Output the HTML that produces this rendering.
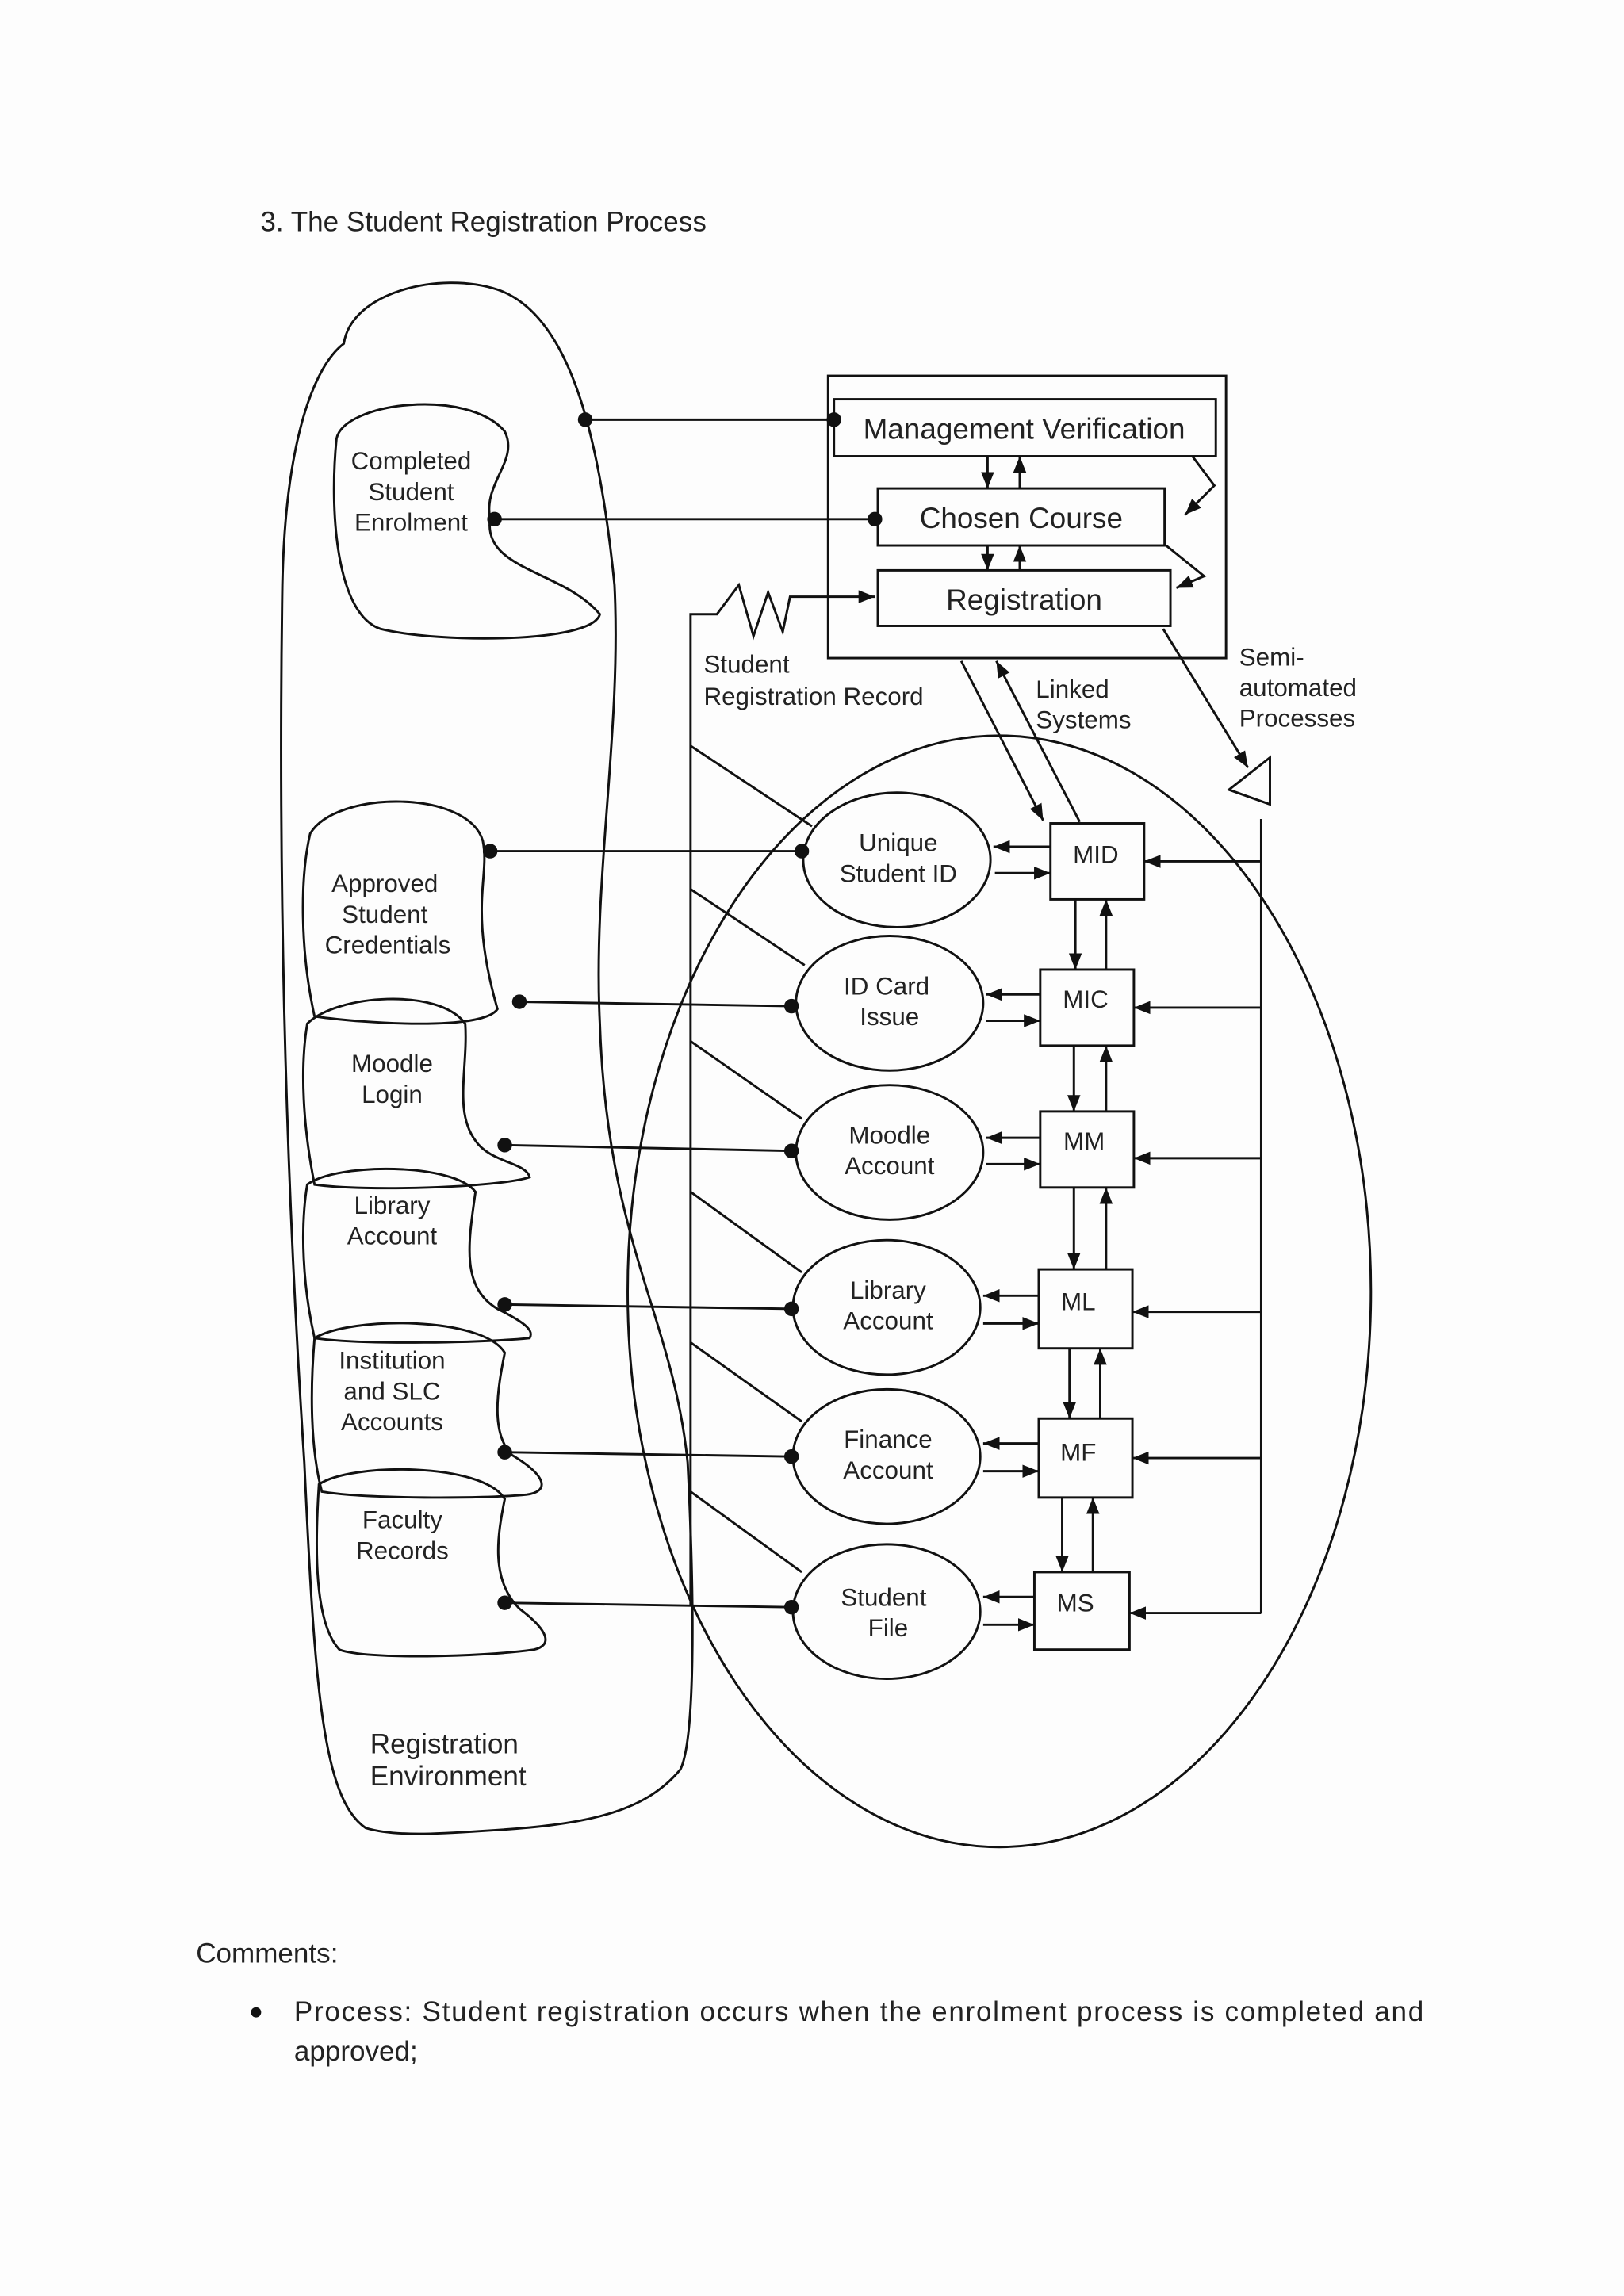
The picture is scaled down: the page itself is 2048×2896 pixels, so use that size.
<!DOCTYPE html>
<html><head><meta charset="utf-8"><style>
html,body{margin:0;padding:0;background:#fdfdfd;}
svg{display:block;}
text{font-family:"Liberation Sans",Arial,sans-serif;fill:#222;}
.t{font-size:17px;text-anchor:middle;}
</style></head><body>
<svg width="2048" height="2896" viewBox="0 0 1110 1570" preserveAspectRatio="none" xmlns="http://www.w3.org/2000/svg">
<defs>
<marker id="a" viewBox="0 0 10 10" refX="10" refY="5" markerWidth="7" markerHeight="7" orient="auto"><path d="M0,1 L10,5 L0,9 Z" fill="#111"/></marker>
</defs>
<rect width="1110" height="1570" fill="#fdfdfd"/>
<text x="178" y="158" style="font-size:19px" fill="#333">3. The Student Registration Process</text>
<g fill="none" stroke="#111" stroke-width="1.6">
<path d="M250,1250 C220,1230 215,1150 208,1000 C195,800 190,600 193,400 C195,300 215,250 235,235 C240,200 300,185 340,198 C390,215 410,300 420,400 C425,500 405,600 410,700 C415,850 460,900 470,1000 C475,1100 475,1190 465,1210 C440,1240 400,1248 330,1252 C300,1254 270,1256 250,1250 Z"/>
<path d="M230,300 C235,275 320,265 345,295 C355,315 330,330 335,355 C330,390 385,390 410,420 C405,440 300,440 260,430 C230,420 225,350 230,300 Z"/>
<path d="M212,570 C230,540 320,540 330,575 C335,600 320,620 340,690 C330,705 250,700 215,695 C205,650 205,600 212,570 Z"/>
<path d="M210,700 C230,680 300,675 318,700 C320,730 310,760 325,780 C335,795 360,795 362,805 C340,812 250,815 215,810 C207,770 205,730 210,700 Z"/>
<path d="M210,810 C230,795 310,795 325,815 C320,850 315,880 340,895 C360,905 365,910 362,915 C330,918 250,920 215,915 C207,880 205,840 210,810 Z"/>
<path d="M215,915 C240,900 330,900 345,925 C340,950 335,980 350,995 C375,1010 375,1020 360,1022 C330,1025 250,1025 220,1020 C212,990 212,950 215,915 Z"/>
<path d="M218,1015 C240,1000 330,1000 345,1025 C340,1050 335,1080 355,1100 C375,1115 378,1125 365,1128 C330,1133 250,1135 232,1128 C215,1110 215,1060 218,1015 Z"/>
<rect x="566" y="257" width="272" height="193"/>
<rect x="570" y="273" width="261" height="39" fill="#fdfdfd"/>
<rect x="600" y="334" width="196" height="39" fill="#fdfdfd"/>
<rect x="600" y="390" width="200" height="38" fill="#fdfdfd"/>
<line x1="675" y1="312" x2="675" y2="334" marker-end="url(#a)"/>
<line x1="697" y1="334" x2="697" y2="312" marker-end="url(#a)"/>
<line x1="675" y1="373" x2="675" y2="390" marker-end="url(#a)"/>
<line x1="697" y1="390" x2="697" y2="373" marker-end="url(#a)"/>
<polyline points="815,312 830,332 810,352" marker-end="url(#a)"/>
<polyline points="797,373 823,394 804,402" marker-end="url(#a)"/>
<line x1="400" y1="287" x2="570" y2="287"/>
<line x1="338" y1="355" x2="598" y2="355"/>
<polyline points="472,1098 472,420 490,420 505,400 515,435 525,405 535,432 540,408 598,408" marker-end="url(#a)"/>
<line x1="657" y1="452" x2="713" y2="561" marker-end="url(#a)"/>
<line x1="738" y1="562" x2="681" y2="452" marker-end="url(#a)"/>
<line x1="795" y1="430" x2="853" y2="525" marker-end="url(#a)"/>
<polygon points="840,540 868,518 868,550"/>
<line x1="862" y1="560" x2="862" y2="1103"/>
<ellipse cx="683" cy="883" rx="254" ry="380"/>
<line x1="472" y1="510" x2="555" y2="565"/>
<line x1="472" y1="608" x2="550" y2="660"/>
<line x1="472" y1="712" x2="548" y2="765"/>
<line x1="472" y1="815" x2="548" y2="870"/>
<line x1="472" y1="918" x2="548" y2="972"/>
<line x1="472" y1="1020" x2="548" y2="1075"/>
<ellipse cx="613" cy="588" rx="64" ry="46" fill="#fdfdfd"/>
<ellipse cx="608" cy="686" rx="64" ry="46" fill="#fdfdfd"/>
<ellipse cx="608" cy="788" rx="64" ry="46" fill="#fdfdfd"/>
<ellipse cx="606" cy="894" rx="64" ry="46" fill="#fdfdfd"/>
<ellipse cx="606" cy="996" rx="64" ry="46" fill="#fdfdfd"/>
<ellipse cx="606" cy="1102" rx="64" ry="46" fill="#fdfdfd"/>
<rect x="718" y="563" width="64" height="52"/>
<rect x="711" y="663" width="64" height="52"/>
<rect x="711" y="760" width="64" height="52"/>
<rect x="710" y="868" width="64" height="54"/>
<rect x="710" y="970" width="64" height="54"/>
<rect x="707" y="1075" width="65" height="53"/>
<line x1="718" y1="579" x2="679" y2="579" marker-end="url(#a)"/><line x1="680" y1="597" x2="718" y2="597" marker-end="url(#a)"/>
<line x1="711" y1="680" x2="674" y2="680" marker-end="url(#a)"/><line x1="674" y1="698" x2="711" y2="698" marker-end="url(#a)"/>
<line x1="711" y1="778" x2="674" y2="778" marker-end="url(#a)"/><line x1="674" y1="796" x2="711" y2="796" marker-end="url(#a)"/>
<line x1="710" y1="886" x2="672" y2="886" marker-end="url(#a)"/><line x1="672" y1="905" x2="710" y2="905" marker-end="url(#a)"/>
<line x1="710" y1="987" x2="672" y2="987" marker-end="url(#a)"/><line x1="672" y1="1006" x2="710" y2="1006" marker-end="url(#a)"/>
<line x1="707" y1="1092" x2="672" y2="1092" marker-end="url(#a)"/><line x1="672" y1="1111" x2="707" y2="1111" marker-end="url(#a)"/>
<line x1="735" y1="615" x2="735" y2="663" marker-end="url(#a)"/><line x1="756" y1="663" x2="756" y2="615" marker-end="url(#a)"/>
<line x1="734" y1="715" x2="734" y2="760" marker-end="url(#a)"/><line x1="756" y1="760" x2="756" y2="715" marker-end="url(#a)"/>
<line x1="734" y1="812" x2="734" y2="868" marker-end="url(#a)"/><line x1="756" y1="868" x2="756" y2="812" marker-end="url(#a)"/>
<line x1="731" y1="922" x2="731" y2="970" marker-end="url(#a)"/><line x1="752" y1="970" x2="752" y2="922" marker-end="url(#a)"/>
<line x1="726" y1="1024" x2="726" y2="1075" marker-end="url(#a)"/><line x1="747" y1="1075" x2="747" y2="1024" marker-end="url(#a)"/>
<line x1="862" y1="589" x2="782" y2="589" marker-end="url(#a)"/>
<line x1="862" y1="689" x2="775" y2="689" marker-end="url(#a)"/>
<line x1="862" y1="792" x2="775" y2="792" marker-end="url(#a)"/>
<line x1="862" y1="897" x2="774" y2="897" marker-end="url(#a)"/>
<line x1="862" y1="997" x2="774" y2="997" marker-end="url(#a)"/>
<line x1="862" y1="1103" x2="772" y2="1103" marker-end="url(#a)"/>
<line x1="335" y1="582" x2="548" y2="582"/>
<line x1="355" y1="685" x2="541" y2="688"/>
<line x1="345" y1="783" x2="541" y2="787"/>
<line x1="345" y1="892" x2="541" y2="895"/>
<line x1="345" y1="993" x2="541" y2="996"/>
<line x1="345" y1="1096" x2="541" y2="1099"/>
</g>
<g fill="#111">
<circle cx="400" cy="287" r="5"/><circle cx="570" cy="287" r="5"/>
<circle cx="338" cy="355" r="5"/><circle cx="598" cy="355" r="5"/>
<circle cx="335" cy="582" r="5"/><circle cx="548" cy="582" r="5"/>
<circle cx="355" cy="685" r="5"/><circle cx="541" cy="688" r="5"/>
<circle cx="345" cy="783" r="5"/><circle cx="541" cy="787" r="5"/>
<circle cx="345" cy="892" r="5"/><circle cx="541" cy="895" r="5"/>
<circle cx="345" cy="993" r="5"/><circle cx="541" cy="996" r="5"/>
<circle cx="345" cy="1096" r="5"/><circle cx="541" cy="1099" r="5"/>
</g>
<g class="t">
<text class="t" x="700" y="300" style="font-size:20px">Management Verification</text>
<text class="t" x="698" y="361" style="font-size:20px">Chosen Course</text>
<text class="t" x="700" y="417" style="font-size:20px">Registration</text>
<text class="t" x="281" y="321">Completed</text><text class="t" x="281" y="342">Student</text><text class="t" x="281" y="363">Enrolment</text>
<text class="t" x="263" y="610">Approved</text><text class="t" x="263" y="631">Student</text><text class="t" x="265" y="652">Credentials</text>
<text class="t" x="268" y="733">Moodle</text><text class="t" x="268" y="754">Login</text>
<text class="t" x="268" y="830">Library</text><text class="t" x="268" y="851">Account</text>
<text class="t" x="268" y="936">Institution</text><text class="t" x="268" y="957">and SLC</text><text class="t" x="268" y="978">Accounts</text>
<text class="t" x="275" y="1045">Faculty</text><text class="t" x="275" y="1066">Records</text>
<text class="t" x="614" y="582">Unique</text><text class="t" x="614" y="603">Student ID</text>
<text class="t" x="606" y="680">ID Card</text><text class="t" x="608" y="701">Issue</text>
<text class="t" x="608" y="782">Moodle</text><text class="t" x="608" y="803">Account</text>
<text class="t" x="607" y="888">Library</text><text class="t" x="607" y="909">Account</text>
<text class="t" x="607" y="990">Finance</text><text class="t" x="607" y="1011">Account</text>
<text class="t" x="604" y="1098">Student</text><text class="t" x="607" y="1119">File</text>
<text class="t" x="749" y="590">MID</text>
<text class="t" x="742" y="689">MIC</text>
<text class="t" x="741" y="786">MM</text>
<text class="t" x="737" y="896">ML</text>
<text class="t" x="737" y="999">MF</text>
<text class="t" x="735" y="1102">MS</text>
</g>
<text x="481" y="460" style="font-size:17px">Student</text>
<text x="481" y="482" style="font-size:17px">Registration Record</text>
<text x="708" y="477" style="font-size:17px">Linked</text>
<text x="708" y="498" style="font-size:17px">Systems</text>
<text x="847" y="455" style="font-size:17px">Semi-</text>
<text x="847" y="476" style="font-size:17px">automated</text>
<text x="847" y="497" style="font-size:17px">Processes</text>
<text x="253" y="1199" style="font-size:19px">Registration</text>
<text x="253" y="1221" style="font-size:19px">Environment</text>
<text x="134" y="1342" style="font-size:19px" fill="#111">Comments:</text>
<circle cx="175" cy="1376" r="3.5" fill="#111"/>
<text x="201" y="1382" style="font-size:19px" fill="#111" textLength="772" lengthAdjust="spacing">Process: Student registration occurs when the enrolment process is completed and</text>
<text x="201" y="1409" style="font-size:19px" fill="#111">approved;</text>
</svg>
</body></html>
